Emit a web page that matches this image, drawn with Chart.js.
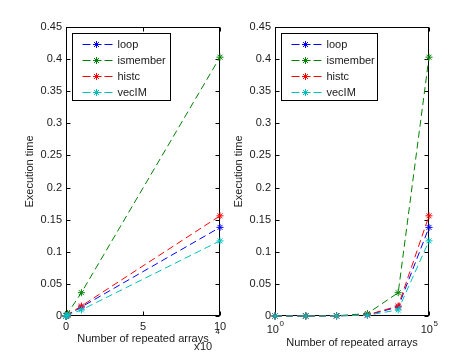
<!DOCTYPE html>
<html><head><meta charset="utf-8">
<script src="https://cdn.jsdelivr.net/npm/chart.js@4"></script>
<style>
html,body{margin:0;padding:0;background:#fff;}
#wrap{position:relative;width:474px;height:355px;overflow:hidden;background:#fff;}
canvas{position:absolute;top:0;}
#c1{left:0;} #c2{left:232px;}
</style></head><body>
<div id="wrap"><canvas id="c1" width="232" height="355"></canvas><canvas id="c2" width="242" height="355"></canvas></div>
<script>
// ---- data ----
const repeatedArrays = [1, 10, 100, 1000, 10000, 100000];
const seriesNames = ['loop', 'ismember', 'histc', 'vecIM'];
const loopTimes     = [0.00002, 0.00005, 0.0002, 0.0015, 0.0140, 0.138];
const ismemberTimes = [0.00005, 0.0001, 0.0004, 0.0038, 0.0363, 0.403];
const histcTimes    = [0.00004, 0.00008, 0.0003, 0.0018, 0.0156, 0.156];
const vecIMTimes    = [0.00003, 0.00005, 0.0002, 0.0012, 0.0095, 0.117];
const yTickValues = [0, 0.05, 0.1, 0.15, 0.2, 0.25, 0.3, 0.35, 0.4, 0.45];
const leftXTickValues = [0, 50000, 100000];
const rightXTickValues = [1, 100000];
const rightXTickLabels = [['10', '0'], ['10', '5']];
const seriesValues = [loopTimes, ismemberTimes, histcTimes, vecIMTimes];
const seriesColors = ['#0000ff', '#008000', '#ff0000', '#00bfbf'];

const FONT = '"Liberation Sans", Arial, Helvetica, sans-serif';
Chart.defaults.font.family = FONT;
Chart.defaults.font.size = 11;
Chart.defaults.color = '#1a1a1a';

function makeDatasets() {
  return seriesNames.map((name, i) => ({
    label: name,
    data: repeatedArrays.map((x, j) => ({x: x, y: seriesValues[i][j]})),
    borderColor: seriesColors[i],
    backgroundColor: seriesColors[i],
    pointBorderColor: seriesColors[i],
    borderWidth: 1,
    borderDash: [7, 4],
    pointStyle: 'star',
    pointRadius: 3.5,
    pointBorderWidth: 1,
    fill: false,
    tension: 0,
    clip: false,
    order: seriesNames.length - i
  }));
}

function drawStar(ctx, x, y, r) {
  ctx.beginPath();
  ctx.moveTo(x - r, y); ctx.lineTo(x + r, y);
  ctx.moveTo(x, y - r); ctx.lineTo(x, y + r);
  const d = r * Math.SQRT1_2;
  ctx.moveTo(x - d, y - d); ctx.lineTo(x + d, y + d);
  ctx.moveTo(x - d, y + d); ctx.lineTo(x + d, y - d);
  ctx.stroke();
}

const matlabAxes = {
  id: 'matlabAxes',
  beforeDatasetsDraw(chart, args, opts) {
    const {ctx, chartArea: a, scales: {x, y}} = chart;
    ctx.save();
    ctx.strokeStyle = '#000';
    ctx.lineWidth = 1;
    const L = Math.round(a.left) + 0.5, R = Math.round(a.right) - 0.5;
    const T = Math.round(a.top) + 0.5, B = Math.round(a.bottom) - 0.5;
    ctx.strokeRect(L, T, R - L, B - T);
    ctx.beginPath();
    yTickValues.forEach(v => {
      const py = Math.round(y.getPixelForValue(v)) + 0.5;
      ctx.moveTo(L, py); ctx.lineTo(L + 4, py);
      ctx.moveTo(R, py); ctx.lineTo(R - 4, py);
    });
    (opts.xTicks || []).forEach(v => {
      const px = Math.round(x.getPixelForValue(v)) + 0.5;
      ctx.moveTo(px, B); ctx.lineTo(px, B - 4);
      ctx.moveTo(px, T); ctx.lineTo(px, T + 4);
    });
    ctx.stroke();
    ctx.restore();
  },
  afterDraw(chart, args, opts) {
    const {ctx, chartArea: a, scales: {x}} = chart;
    ctx.save();
    // extra labels (superscripts)
    ctx.fillStyle = '#1a1a1a';
    ctx.textBaseline = 'alphabetic';
    if (opts.logLabels) {
      rightXTickValues.forEach((v, i) => {
        const [base, sup] = rightXTickLabels[i];
        const px = x.getPixelForValue(v);
        ctx.font = '11px ' + FONT;
        const w1 = ctx.measureText(base).width;
        ctx.font = '8px ' + FONT;
        const w2 = ctx.measureText(sup).width;
        const sx = px - (w1 + w2) / 2;
        ctx.font = '11px ' + FONT;
        ctx.textAlign = 'left';
        ctx.fillText(base, sx, 333);
        ctx.font = '8px ' + FONT;
        ctx.fillText(sup, sx + w1 + 0.5, 326);
      });
    }
    if (opts.exponent) {
      ctx.textAlign = 'left';
      ctx.font = '11px ' + FONT;
      ctx.fillText('x', 194, 350);
      ctx.fillText('10', 200, 350);
      ctx.font = '8px ' + FONT;
      ctx.fillText(opts.exponent, 215.5, 334);
    }
    // legend
    const bx = Math.round(a.left + 6) + 0.5, by = Math.round(a.top + 6) + 0.5;
    const bw = opts.legendWidth, bh = 67;
    ctx.fillStyle = '#fff';
    ctx.fillRect(bx, by, bw, bh);
    ctx.strokeStyle = '#000';
    ctx.lineWidth = 1;
    ctx.setLineDash([]);
    ctx.strokeRect(bx, by, bw, bh);
    chart.data.datasets.forEach((ds, i) => {
      const cy = Math.round(by + 10 + i * 16) + 0.5;
      ctx.strokeStyle = ds.borderColor;
      ctx.setLineDash([8, 3]);
      ctx.beginPath();
      ctx.moveTo(bx + 10, cy); ctx.lineTo(bx + 41, cy);
      ctx.stroke();
      ctx.setLineDash([]);
      drawStar(ctx, bx + 24, cy, 3.5);
      ctx.fillStyle = '#1a1a1a';
      ctx.font = '11px ' + FONT;
      ctx.textAlign = 'left';
      ctx.textBaseline = 'middle';
      ctx.fillText(ds.label, bx + 45, cy + 0.5);
    });
    ctx.restore();
  }
};

function yScale(width, titlePad) {
  return {
    type: 'linear', min: 0, max: 0.45,
    afterBuildTicks: s => { s.ticks = yTickValues.map(v => ({value: v})); },
    afterFit: s => { s.width = width; },
    grid: {display: false, drawTicks: false},
    border: {display: false},
    ticks: {padding: 4, callback: v => String(Number(v.toFixed(2)))},
    title: {display: true, text: 'Execution time', padding: {top: titlePad, bottom: 0}}
  };
}

function makeChart(id, xScale, padRight, yWidth, yTitlePad, pluginOpts) {
  return new Chart(document.getElementById(id), {
    type: 'line',
    data: {datasets: makeDatasets()},
    options: {
      responsive: false, animation: false, events: [],
      layout: {padding: {left: 0, right: padRight, top: 27, bottom: 0}},
      plugins: {legend: {display: false}, tooltip: {enabled: false}, matlabAxes: pluginOpts},
      scales: {x: xScale, y: yScale(yWidth, yTitlePad)}
    },
    plugins: [matlabAxes]
  });
}

// left: linear x
makeChart('c1', {
  type: 'linear', min: 0, max: 100000,
  afterBuildTicks: s => { s.ticks = leftXTickValues.map(v => ({value: v})); },
  afterFit: s => { s.height = 39; },
  grid: {display: false, drawTicks: false},
  border: {display: false},
  ticks: {padding: 4, maxRotation: 0, callback: v => String(v / 10000)},
  title: {display: true, text: 'Number of repeated arrays', padding: {top: 0, bottom: 9}}
}, 12, 66, 23, {xTicks: leftXTickValues, exponent: '4', legendWidth: 98});

// right: log x
makeChart('c2', {
  type: 'logarithmic', min: 1, max: 100000,
  afterFit: s => { s.height = 39; },
  grid: {display: false, drawTicks: false},
  border: {display: false},
  ticks: {display: false},
  title: {display: true, text: 'Number of repeated arrays', padding: {top: 0, bottom: 5}}
}, 45, 43, 0, {xTicks: rightXTickValues, logLabels: true, legendWidth: 96});
</script>
</body></html>
